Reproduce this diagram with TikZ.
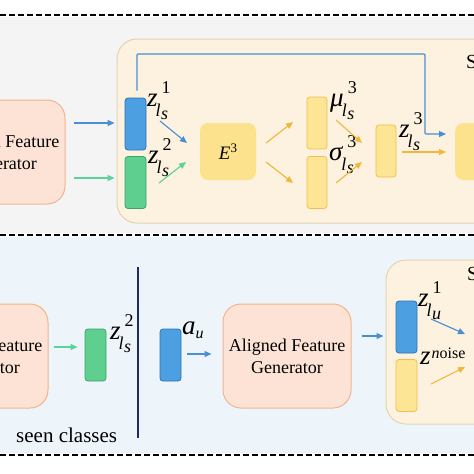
\documentclass[tikz,border=0pt]{standalone}
\usepackage{fontspec}
\setmainfont{Liberation Serif}
\usetikzlibrary{arrows.meta}
\definecolor{graybg}{HTML}{F4F4F4}
\definecolor{bluebg}{HTML}{EEF5FA}
\definecolor{modfill}{HTML}{FCF2DF}
\definecolor{moddraw}{HTML}{E2D4B2}
\definecolor{genfill}{HTML}{FDE3D5}
\definecolor{gendraw}{HTML}{F2B48F}
\definecolor{bluefill}{HTML}{4C9FE0}
\definecolor{bluedraw}{HTML}{2E72B3}
\definecolor{greenfill}{HTML}{5FCF90}
\definecolor{greendraw}{HTML}{3AA46A}
\definecolor{yelfill}{HTML}{FDE596}
\definecolor{yeldraw}{HTML}{F0C04A}
\definecolor{efill}{HTML}{FDE28E}
\definecolor{bluearr}{HTML}{4A8FD6}
\definecolor{greenarr}{HTML}{5CD39A}
\definecolor{yelarr}{HTML}{F0B73A}
\definecolor{navy}{HTML}{1F2A66}
% label: base (italic), superscript, subscript (italic), sub-subscript (italic)
\newcommand{\zlab}[4]{\textit{#1}\kern-2pt\rlap{\raisebox{13pt}{\fontsize{18}{18}\selectfont\kern6pt #2}}\raisebox{-10pt}{\fontsize{18}{18}\selectfont\textit{#3}\kern0.5pt\raisebox{-3pt}{\textit{#4}}}}
\tikzset{
  dashline/.style={line width=2pt, dash pattern=on 6pt off 3pt, black},
  module/.style={draw=moddraw, fill=modfill, line width=1pt, rounded corners=20pt, inner sep=0pt},
  genbox/.style={draw=gendraw, fill=genfill, line width=1pt, rounded corners=18pt, inner sep=0pt,
     minimum width=128pt, minimum height=104pt, align=center, font=\fontsize{18}{22}\selectfont},
  ebox/.style={fill=efill, rounded corners=8pt, inner sep=0pt, minimum width=56pt, minimum height=57pt},
  bar/.style={rounded corners=3pt, minimum width=21pt, minimum height=52pt, inner sep=0pt, line width=0.8pt},
  bluebar/.style={bar, draw=bluedraw, fill=bluefill},
  greenbar/.style={bar, draw=greendraw, fill=greenfill},
  yelbar/.style={bar, draw=yeldraw, fill=yelfill, minimum width=20pt},
  lab/.style={anchor=base west, inner sep=0pt, font=\fontsize{27}{30}\selectfont},
  arr/.style={line width=1.1pt, -{Triangle[length=7pt,width=6pt]}},
  barr/.style={arr, draw=bluearr, fill=bluearr},
  garr/.style={arr, draw=greenarr, fill=greenarr},
  yarr/.style={arr, draw=yelarr, fill=yelarr},
}
\begin{document}
\begin{tikzpicture}[x=1pt,y=-1pt]
\useasboundingbox (0,0) rectangle (474,474);
\clip (0,0) rectangle (474,474);
\fill[white] (0,0) rectangle (474,474);
\fill[graybg] (0,17) rectangle (474,233);
\fill[bluebg] (0,237) rectangle (474,453);
\draw[dashline] (0,15) -- (474,15);
\draw[dashline] (0,235) -- (474,235);
\draw[dashline] (0,455) -- (474,455);

% ---------- top panel ----------
\node[genbox] (genA) at (1,152) {Aligned Feature\\Generator};
\node[module, minimum width=403pt, minimum height=184pt] (modA) at (318.5,131) {};
\node[anchor=base west, inner sep=0pt, font=\fontsize{20}{24}\selectfont] (SA) at (466,68) {S};

\node[bluebar] (b1) at (135.5,124) {};
\node[greenbar] (g1) at (135.5,182.5) {};
\node[lab] (lz1) at (147,106) {\zlab{z}{1}{l}{s}};
\node[lab] (lz2) at (148,163) {\zlab{z}{2}{l}{s}};

\node[ebox] (E) at (228,151.5) {\fontsize{19}{22}\selectfont\textit{E}\raisebox{7pt}{\fontsize{13}{13}\selectfont 3}};
\node[yelbar] (mu) at (317,123) {};
\node[yelbar] (sg) at (317,182.5) {};
\node[lab] (lmu) at (330,106) {\zlab{μ}{3}{l}{s}};
\node[lab] (lsg) at (329,160) {\zlab{σ}{3}{l}{s}};
\node[yelbar] (z3) at (386,151) {};
\node[lab] (lz3) at (399,137) {\zlab{z}{3}{l}{s}};
\node[ebox, minimum width=70pt, anchor=west] (RA) at (455,151.5) {};

\draw[barr, shorten <=8pt, shorten >=10pt] (genA.east |- 0,123) -- (b1.west |- 0,123);
\draw[garr, shorten <=8pt, shorten >=10pt] (genA.east |- 0,178) -- (g1.west |- 0,178);

\coordinate (p1s) at (160,121); \coordinate (p1e) at (187,143);
\coordinate (p2s) at (159,183); \coordinate (p2e) at (186,162);
\draw[barr] (p1s) -- (p1e);
\draw[garr] (p2s) -- (p2e);
\coordinate (p3s) at (266,143); \coordinate (p3e) at (293,122);
\coordinate (p4s) at (266,162); \coordinate (p4e) at (293,183);
\draw[yarr] (p3s) -- (p3e);
\draw[yarr] (p4s) -- (p4e);
\coordinate (p5s) at (336,120); \coordinate (p5e) at (362,143);
\coordinate (p6s) at (336,183); \coordinate (p6e) at (362,162);
\draw[yarr] (p5s) -- (p5e);
\draw[yarr] (p6s) -- (p6e);
\draw[yarr, shorten <=6pt, shorten >=9pt] (z3.east |- 0,152) -- (RA.west |- 0,152);
\draw[line width=1.1pt, draw=bluearr, -{Triangle[length=7pt,width=6pt]}, rounded corners=1pt, shorten <=7pt, shorten >=9pt]
  (b1.north -| 137,0) -- (137,54) -- (425,54) -- (425,134) -- (RA.west |- 0,134);

% ---------- bottom panel ----------
\node[genbox] (genB) at (-16,356) {Aligned Feature\\Generator};
\node[greenbar] (g2) at (95.5,355) {};
\node[lab] (lz2b) at (110,339) {\zlab{z}{2}{l}{s}};
\draw[garr, shorten <=5pt, shorten >=7pt] (genB.east |- 0,347) -- (g2.west |- 0,347);

\coordinate (nt) at (138,267); \coordinate (nb) at (138,438);
\draw[navy, line width=2.5pt] (nt) -- (nb);
\node[anchor=base west, inner sep=0pt, font=\fontsize{21}{24}\selectfont] (seen) at (16,442) {seen classes};

\node[bluebar] (b2) at (170.5,355) {};
\node[lab] (lau) at (182,334) {\textit{a}\raisebox{-4pt}{\fontsize{16}{16}\selectfont\textit{u}}};
\node[genbox] (afg) at (287,356) {Aligned Feature\\Generator};
\draw[barr, shorten <=6pt, shorten >=11pt] (b2.east |- 0,354) -- (afg.west |- 0,354);

\node[module, minimum width=214pt, minimum height=164pt] (modB) at (493,342) {};
\node[anchor=base west, inner sep=0pt, font=\fontsize{20}{24}\selectfont] (SB) at (467,280) {S};
\draw[barr, shorten <=10pt, shorten >=2pt] (afg.east |- 0,336) -- (modB.west |- 0,336);

\node[bluebar] (b3) at (406.5,327) {};
\node[yelbar, minimum width=21pt] (y3) at (406.5,385.5) {};
\node[lab] (lz1u) at (418,306) {\zlab{z}{1}{l}{u}};
\node[lab] (lzn) at (420,364) {\textit{z}\raisebox{6pt}{\fontsize{16}{16}\selectfont\kern1pt\textit{n}oise}};
\coordinate (q1s) at (431,319); \coordinate (q1e) at (465,334);
\coordinate (q2s) at (431,384); \coordinate (q2e) at (465,367);
\draw[barr] (q1s) -- (q1e);
\draw[yarr] (q2s) -- (q2e);
\end{tikzpicture}
\end{document}
